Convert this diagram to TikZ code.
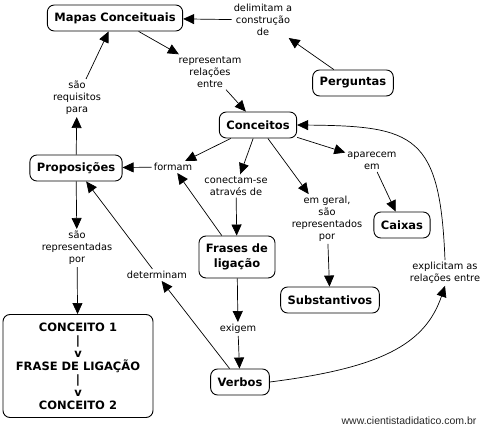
\documentclass[tikz,border=0pt]{standalone}
\usepackage{fontspec}
\setmainfont{DejaVu Sans}
\newfontfamily\sitefont{Liberation Sans}
\usetikzlibrary{arrows.meta}
\usetikzlibrary{calc}

\tikzset{
    conceito/.style={draw, line width=0.9pt, rounded corners=7pt, align=center,
        inner xsep=7pt, minimum height=26pt, font=\fontsize{11.5}{15}\selectfont\bfseries},
    ligacao/.style={align=center, inner sep=2pt, font=\fontsize{9.8}{12}\selectfont},
    seta/.style={-{Triangle[length=11pt,width=10pt]}, line width=0.7pt},
}

\begin{document}
\begin{tikzpicture}[x=1pt, y=-1pt]
        \useasboundingbox (0,0) rectangle (485,430);

        % conceitos
        \node[conceito] (MapasConceituais) at (115,18) {Mapas Conceituais};
        \node[conceito] (Perguntas) at (353,83) {Perguntas};
        \node[conceito] (Conceitos) at (258,125) {Conceitos};
        \node[conceito] (Proposicoes) at (76,168) {Proposições};
        \node[conceito, minimum height=42pt] (FrasesLigacao) at (237,257) {Frases de\\ligação};
        \node[conceito] (Caixas) at (402,225) {Caixas};
        \node[conceito] (Substantivos) at (330,300) {Substantivos};
        \node[conceito] (Verbos) at (240,382) {Verbos};
        \node[conceito, minimum width=150pt, minimum height=103pt, font=\fontsize{11.5}{13}\selectfont\bfseries]
            (Esquema) at (78,366) {CONCEITO 1\\|\\v\\FRASE DE LIGAÇÃO\\|\\v\\CONCEITO 2};

        % frases de ligacao
        \node[ligacao] (delimitam) at (263,20) {delimitam a\\construção\\de};
        \node[ligacao] (representam) at (210,72) {representam\\relações\\entre};
        \node[ligacao] (requisitos) at (77,98) {são\\requisitos\\para};
        \node[ligacao] (formam) at (173,167) {formam};
        \node[ligacao] (conectam) at (236,186) {conectam-se\\através de};
        \node[ligacao] (emgeral) at (327,219) {em geral,\\são\\representados\\por};
        \node[ligacao] (aparecem) at (372,161) {aparecem\\em};
        \node[ligacao] (explicitam) at (445,273) {explicitam as\\relações entre};
        \node[ligacao] (exigem) at (238,329) {exigem};
        \node[ligacao] (determinam) at (157,275) {determinam};
        \node[ligacao] (representadas) at (77,248) {são\\representadas\\por};

        \node[font=\sitefont\fontsize{10.5}{12}\selectfont, text=black!85, inner sep=0pt] (site) at (409,421) {www.cientistadidatico.com.br};

        % setas
        \draw[seta] (Perguntas) -- (delimitam);
        \draw[seta] (delimitam) -- (MapasConceituais);
        \draw[seta] (MapasConceituais) -- (representam);
        \draw[seta] (representam) -- (Conceitos);
        \draw[seta] (Proposicoes) -- (requisitos);
        \draw[seta] (requisitos) -- (MapasConceituais);
        \draw[seta] (Conceitos) -- (formam);
        \draw[seta] (formam) -- (Proposicoes);
        \draw[seta] (Conceitos) -- (conectam);
        \draw[seta] (conectam) -- (FrasesLigacao);
        \draw[seta] (FrasesLigacao) -- (formam);
        \draw[seta] (Conceitos) -- (emgeral);
        \draw[seta] (emgeral) -- (Substantivos);
        \draw[seta] (Conceitos) -- (aparecem);
        \draw[seta] (aparecem) -- (Caixas);
        \draw[seta] (FrasesLigacao) -- (exigem);
        \draw[seta] (exigem) -- (Verbos);
        \draw[seta] (Verbos) -- (determinam);
        \draw[seta] (determinam) -- (Proposicoes);
        \draw[seta] (Proposicoes) -- (representadas);
        \draw[seta] (representadas) -- (Esquema);
        \draw[seta] (Verbos.east) .. controls (380,368) and (425,345) .. (explicitam.south);
        \draw[seta] (explicitam.north) .. controls (440,135) and (415,126) .. (Conceitos.east);

    \end{tikzpicture}
\end{document}
